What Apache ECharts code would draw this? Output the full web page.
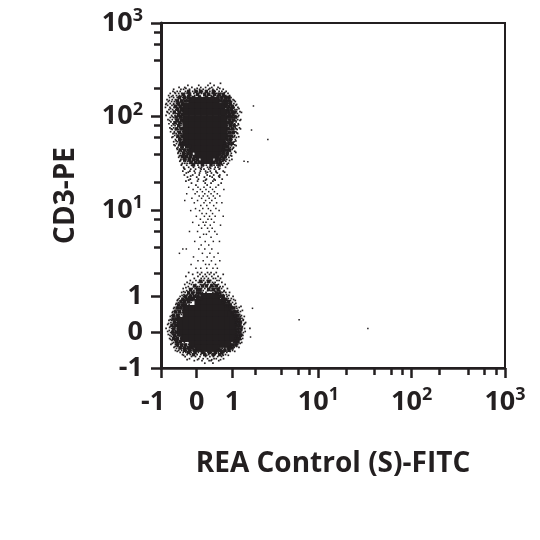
<!DOCTYPE html>
<html>
<head>
<meta charset="utf-8">
<style>html,body{margin:0;padding:0;background:#fff}#chart{width:540px;height:540px}</style>
<script src="https://cdn.jsdelivr.net/npm/echarts@6/dist/echarts.min.js"></script>
</head>
<body>
<div id="chart"></div>
<script>
// Biexponential-style flow cytometry axes: both channels run from -1 to 1000.
const axisMin = -1;
const axisMax = 1000;
const majorTicks = [-1, 0, 1, 10, 100, 1000];
const minorTicks = [2, 4, 6, 8, 20, 40, 60, 80, 200, 400, 600, 800];
const xTitle = 'REA Control (S)-FITC';
const yTitle = 'CD3-PE';

// Saturated event regions, one row per CD3-PE level: [CD3-PE, FITC, FITC, ...]
const upperCoreRows = [
  [149, -.115, .03, .18, .33, .49],
  [129, -.27, -.115, .03, .18, .33, .49, .66],
  [111, -.27, -.115, .03, .18, .33, .49, .66, .73],
  [95, -.27, -.115, .03, .18, .33, .49, .66, .73],
  [82, -.27, -.115, .03, .18, .33, .49, .66, .73],
  [71, -.27, -.115, .03, .18, .33, .49, .66, .73],
  [61, -.27, -.115, .03, .18, .33, .49, .66, .73],
  [52.5, -.27, -.115, .03, .18, .33, .49, .66],
  [45, -.115, .03, .18, .33, .49, .66],
  [39, .03, .18, .33, .49],
  [34, .18, .33]
];
const lowerCoreRows = [
  [.995, .18, .33, .49],
  [.797, .03, .18, .33, .49, .66],
  [.616, -.27, -.115, .03, .18, .33, .49, .66, .85],
  [.449, -.27, -.115, .03, .18, .33, .49, .66, .85, .95],
  [.292, -.42, -.27, -.115, .03, .18, .33, .49, .66, .85, 1.03],
  [.14, -.42, -.27, -.115, .03, .18, .33, .49, .66, .85, 1.03],
  [-.01, -.42, -.27, -.115, .03, .18, .33, .49, .66, .85, 1.03],
  [-.155, -.33, -.27, -.115, .03, .18, .33, .49, .66, .85, 1.03],
  [-.305, -.115, .03, .18, .33, .49, .66, .85],
  [-.41, .03, .18, .33, .49]
];

// Overlapping event clumps that roughen the edge of each saturated region.
const upperClumpRows = [
  [186, -.2, -.02, .1, .24, .42],
  [173, -.34, -.18, .02, .2, .3, .45, .58, .7],
  [160, -.44, -.3, -.2, -.08, .07, .24, .4, .55, .66, .78, .88],
  [147, -.5, -.38, -.29, -.22, .62, .72, .8, .9],
  [137, -.47, -.36, .7, .8, .93],
  [128, -.55, -.42, .78, .88, 1],
  [120, -.49, -.38, .85, .96],
  [112, -.58, -.44, .88, .99, 1.08],
  [105, -.46, -.36, .9, 1.02],
  [99, -.53, -.41, .86, .97, 1.1],
  [92, -.49, -.38, .91, 1.03],
  [86, -.56, -.43, .88, .98],
  [80, -.46, .93, 1.06],
  [74, -.52, -.39, .87, 1],
  [68, -.44, .9, 1.03],
  [62, -.48, -.37, .86, .97],
  [57, -.43, .82, .93],
  [52, -.41, -.33, .76, .88, .99],
  [48, -.37, -.25, -.18, .73, .84],
  [44, -.42, -.3, -.2, .69, .8, .9],
  [40.5, -.33, -.22, -.14, .6, .7, .82],
  [37.5, -.36, -.26, -.16, -.06, .55, .66, .76],
  [35, -.3, -.18, -.08, .02, .5, .6, .72],
  [32.5, -.14, -.03, .06, .12, .42, .52, .62],
  [30.5, -.08, .14, .36, .58]
];
const lowerClumpRows = [
  [1.6, .1, .3],
  [1.4, -.05, .14, .24, .38, .5],
  [1.25, -.15, .02, .08, .3, .42, .55],
  [1.12, -.2, -.1, .02, .08, .5, .6],
  [1, -.28, -.15, -.05, .03, .6, .7],
  [.93, -.18, -.08, .02, .1],
  [.9, -.35, -.24, -.12, .68, .78],
  [.82, -.4, -.3, -.2, .74, .86],
  [.72, -.46, -.36, -.28, .8, .92],
  [.63, -.5, -.4, .95, 1.05],
  [.52, -.55, -.44, 1.06, 1.15],
  [.42, -.6, -.48, 1.1, 1.2],
  [.33, -.62, -.53, 1.14, 1.25],
  [.25, -.58, 1.18, 1.3],
  [.17, -.65, -.54, 1.17, 1.28],
  [.08, -.6, 1.2, 1.32],
  [0, -.63, -.53, 1.18, 1.28],
  [-.08, -.58, 1.16, 1.3],
  [-.16, -.6, -.5, 1.15, 1.25],
  [-.24, -.52, -.42, 1.1, 1.2],
  [-.32, -.5, -.38, -.28, 1, 1.12],
  [-.4, -.42, -.3, -.2, -.12, .88, .98],
  [-.46, -.3, -.18, -.06, .62, .75, .88],
  [-.52, -.2, -.04, .14, .32, .48, .66],
  [-.58, -.08, .2, .42, .6]
];

// Individually resolved events around the upper (CD3+) population.
const upperEventRows = [
  [227, .34, .62], [216, -.22, .05, .28, .44],
  [205, -.45, -.3, -.12, .1, .22, .38, .55],
  [196, -.6, -.4, -.33, -.18, -.05, .07, .16, .3, .41, .52, .7],
  [186, -.62, -.5, -.42, -.28, -.2, -.1, .02, .14, .25, .33, .47, .58, .66, .79],
  [177, -.7, -.55, -.46, -.38, -.3, -.24, -.16, -.07, .05, .12, .2, .31, .39, .5, .56, .63, .72, .85],
  [168, -.75, -.62, -.52, -.44, -.36, -.3, -.22, -.15, -.05, .08, .18, .27, .36, .45, .53, .61, .7, .78, .9],
  [160, -.72, -.6, -.5, -.42, -.35, -.27, -.2, -.13, .54, .62, .67, .74, .82, .95],
  [152, -.8, -.64, -.55, -.47, -.4, -.33, -.25, -.18, .6, .66, .73, .8, .88, 1.02],
  [145, -.76, -.66, -.58, -.49, -.42, -.35, -.29, .68, .75, .82, .9, .97, 1.1],
  [138, -.82, -.7, -.6, -.52, -.44, -.38, .72, .79, .86, .93, 1.05],
  [132, -.78, -.65, -.56, -.47, -.41, -.36, .76, .83, .9, 1, 1.12],
  [125.6, -.85, -.71, -.59, -.5, -.43, -.37, .8, .85, .94, 1.06, 1.2],
  [119, -.74, -.63, -.54, -.46, -.39, .82, .88, .97, 1.09, 1.16],
  [113, -.8, -.68, -.57, -.48, -.4, -.36, .84, .9, 1.01, 1.14, 1.28],
  [108, -.73, -.61, -.53, -.44, -.38, .81, .87, .95, 1.04, 1.18],
  [103, -.83, -.66, -.56, -.47, -.41, .85, .92, .99, 1.11, 1.23],
  [98, -.7, -.6, -.51, -.43, -.37, .83, .89, 1.03, 1.15],
  [93, -.77, -.64, -.55, -.46, -.39, .86, .94, 1.07, 1.19, 1.31],
  [88, -.68, -.58, -.49, -.41, -.36, .82, .9, 1, 1.13],
  [84, -.74, -.62, -.52, -.44, -.38, .85, .96, 1.08, 1.21],
  [80, -.66, -.56, -.48, -.4, .84, .91, 1.02, 1.16],
  [76, -.71, -.6, -.5, -.43, -.37, .86, .97, 1.1, 1.26],
  [73, -.64, -.55, -.46, -.39, .83, .93, 1.05, 1.17],
  [69, -.69, -.58, -.49, -.42, -.36, .85, .99, 1.12],
  [66, -.62, -.53, -.44, -.38, .82, .9, 1.03, 1.19],
  [63, -.57, -.47, -.4, -.35, .86, .95, 1.08],
  [60, -.65, -.51, -.43, -.37, .81, .92, 1.01, 1.14],
  [57, -.55, -.46, -.39, -.33, .78, .88, .98, 1.1],
  [54, -.6, -.49, -.42, -.36, -.3, .76, .85, .94, 1.06],
  [51.5, -.52, -.44, -.38, -.33, .72, .82, .91, 1.02],
  [49, -.56, -.46, -.41, -.35, -.28, .74, .79, .87, .97, 1.13],
  [47, -.48, -.4, -.34, -.27, .71, .78, .84, .93, 1.04],
  [44.7, -.5, -.43, -.36, -.3, -.24, .7, .76, .81, .89, .99],
  [42.6, -.45, -.38, -.32, -.26, -.2, .68, .74, .83, .92, 1.08],
  [40.6, -.48, -.41, -.33, -.28, -.22, -.17, .66, .72, .79, .86, .96],
  [38.6, -.42, -.36, -.29, -.24, -.18, -.12, .6, .67, .75, .84, .93],
  [36.8, -.46, -.38, -.31, -.25, -.19, -.14, -.08, .56, .63, .7, .77, .88],
  [35, -.4, -.34, -.27, -.21, -.16, -.1, -.04, .02, .52, .58, .66, .73, .81, .98],
  [33.4, -.43, -.32, -.28, -.22, -.17, -.11, -.05, 0, .06, .47, .54, .61, .69, .78],
  [31.8, -.36, -.3, -.24, -.18, -.12, -.06, .01, .08, .14, .42, .5, .56, .64, .72, .86],
  [30.3, -.39, -.25, -.13, -.07, .03, .17, .24, .36, .44, .52, .68],
  [28.8, -.33, -.2, -.08, .05, .12, .27, .33, .47, .55, .77],
  [27.5, -.3, -.15, -.03, .11, .18, .3, .45, .58],
  [26.2, -.35, -.17, -.06, .09, .22, .34, .49, .7],
  [25, -.26, -.04, .07, .23, .37, .53],
  [23.8, -.31, -.1, .06, .26, .43, .6, .82],
  [22.6, -.23, 0, .19, .39, .59],
  [21.5, -.16, .04, .24, .44, .67],
  [20.5, -.27, .02, .17, .41],
  [19.5, -.13, .21, .36, .64],
  [18.6, -.02, .26, .56],
  // second pass of events between the rows above
  [200, -.27, .01, .33, .6],
  [181, -.57, -.23, .09, .44, .75],
  [164, -.66, -.4, .72, .86],
  [149, -.73, -.52, .79, 1.06],
  [135, -.6, -.84, .95, 1.15],
  [122, -.69, -.51, 1.04, 1.24],
  [111, -.78, -.59, 1.1, 1.34],
  [100, -.64, -.47, 1, 1.2],
  [91, -.72, -.53, 1.12, 1.28],
  [82, -.6, -.45, 1.04, 1.22],
  [74, -.67, -.51, 1.13, 1.3],
  [67, -.58, -.44, .96, 1.16],
  [61, -.62, -.48, 1.06, 1.23],
  [55, -.53, -.41, .9, 1.12],
  [50, -.59, -.45, .95, 1.08],
  [46, -.51, -.37, .88, 1.02],
  [41.5, -.47, -.34, .85, 1.12],
  [38, -.44, -.31, .8, .97],
  [34, -.41, -.2, .71, .9],
  [31, -.38, -.1, .15, .66, .82],
  [28, -.32, .09, .35, .6],
  [25.5, -.21, .27, .5, .74],
  [23.2, -.15, .33, .57],
  [21, -.2, .22, .47]
];

// Sparse events bridging the two populations.
const bridgeEventRows = [
  [17.6, -.2, .03, .18, .34, .49],
  [16.7, -.09, .09, .23, .4, .72],
  [15.8, .01, .14, .3, .45],
  [15, -.25, -.04, .2, .36, .53],
  [14.2, .06, .16, .27, .42, .6],
  [13.4, -.12, .12, .31, .47],
  [12.7, -.3, .02, .22, .38],
  [12, -.06, .18, .33, .51, .66],
  [11.2, .1, .25, .43],
  [10.4, -.03, .15, .29, .49],
  [9.9, -.15, .07, .35, .58],
  [9.2, .13, .24, .4],
  [8.6, -.01, .19, .32, .47, .7],
  [8, .09, .28, .37],
  [7.4, -.1, .16, .23, .44],
  [6.9, .05, .2, .34, .62],
  [6.4, .12, .27, .39],
  [5.9, -.18, .02, .31, .46],
  [5.5, .17, .24, .52],
  [5.1, .08, .36],
  [4.6, -.05, .21, .42, .59],
  [4.2, .11, .3],
  [3.8, -.35, -.26, .05, .2, .38],
  [3.4, -.44, .14, .33, .55],
  [3.1, -.08, .26, .44],
  [2.8, .03, .16, .37, .6],
  [2.55, -.14, .22, .31, .48],
  [2.3, -.02, .1, .25, .41, .53]
];

// Individually resolved events around the lower (CD3-) population.
const lowerEventRows = [
  [2.05, -.2, .02, .12, .27, .36, .5],
  [1.95, -.1, .08, .21, .32, .44, .7],
  [1.84, -.27, .03, .15, .24, .38, .55],
  [1.74, -.06, .11, .19, .29, .42, .48, .62],
  [1.64, -.16, -.02, .07, .17, .26, .35, .52, .58],
  [1.55, -.24, -.1, .04, .13, .22, .31, .4, .47, .66],
  [1.46, -.3, -.13, -.03, .09, .18, .28, .37, .45, .56, .76],
  [1.37, -.21, -.08, .01, .06, .15, .25, .34, .43, .51, .61, .69],
  [1.29, -.34, -.18, -.11, -.04, .05, .12, .2, .3, .39, .49, .57, .65, .83],
  [1.21, -.25, -.15, -.07, 0, .1, .16, .27, .36, .46, .54, .6, .73],
  [1.14, -.38, -.29, -.19, -.12, -.05, .02, .08, .14, .23, .41, .5, .59, .67, .78, .9],
  [1.06, -.32, -.23, -.16, -.09, -.02, .04, .11, .53, .62, .7, .8],
  [.995, -.42, -.33, -.26, -.2, -.13, -.06, .01, .08, .56, .64, .72, .82, 1.02],
  [.925, -.45, -.35, -.28, -.22, -.15, -.08, .59, .66, .74, .86, .96],
  [.86, -.5, -.4, -.31, -.24, -.17, -.1, -.04, .63, .7, .77, .84, .93, 1.1],
  [.797, -.47, -.37, -.3, -.23, -.14, .68, .75, .81, .9, 1],
  [.735, -.54, -.43, -.34, -.27, -.19, .72, .79, .86, .94, 1.07],
  [.675, -.49, -.41, -.36, -.29, .76, .83, .91, .99, 1.14, 1.32],
  [.616, -.6, -.52, -.44, -.38, -.32, .9, .97, 1.04, 1.16],
  [.56, -.56, -.48, -.42, -.36, .92, .98, 1.06, 1.2, 1.38],
  [.5, -.64, -.54, -.47, -.4, -.35, .95, 1.01, 1.09, 1.22],
  [.449, -.59, -.51, -.45, -.39, .98, 1.05, 1.13, 1.27],
  [.396, -.7, -.57, -.5, -.44, 1.02, 1.08, 1.17, 1.3, 1.46],
  [.343, -.62, -.55, -.48, 1.03, 1.1, 1.16, 1.24, 1.36],
  [.292, -.74, -.66, -.58, -.51, 1.12, 1.18, 1.26, 1.41],
  [.24, -.68, -.6, -.53, -.47, 1.09, 1.15, 1.22, 1.33, 1.52],
  [.19, -.78, -.63, -.56, -.5, 1.11, 1.19, 1.28, 1.44],
  [.14, -.7, -.61, -.54, -.48, 1.13, 1.2, 1.3, 1.38],
  [.091, -.83, -.66, -.57, -.5, 1.1, 1.17, 1.25, 1.47, 1.72],
  [.042, -.73, -.63, -.55, -.47, 1.14, 1.21, 1.34],
  [-.01, -.69, -.59, -.52, -.46, 1.12, 1.19, 1.28, 1.42],
  [-.057, -.76, -.64, -.56, -.49, 1.09, 1.16, 1.24, 1.36],
  [-.106, -.67, -.58, -.51, -.45, 1.13, 1.2, 1.31],
  [-.156, -.72, -.61, -.54, -.47, -.41, 1.1, 1.18, 1.26, 1.39],
  [-.206, -.65, -.57, -.5, -.44, -.38, 1.06, 1.14, 1.23],
  [-.256, -.6, -.53, -.46, -.39, -.31, 1.03, 1.11, 1.21, 1.35],
  [-.307, -.68, -.55, -.48, -.42, -.35, -.27, -.2, .95, 1.02, 1.1, 1.19],
  [-.36, -.56, -.49, -.41, -.36, -.29, -.22, -.15, .88, .96, 1.04, 1.15],
  [-.41, -.52, -.44, -.37, -.31, -.25, -.17, -.09, -.03, .6, .67, .75, .83, .9, 1.01],
  [-.466, -.55, -.46, -.38, -.32, -.26, -.19, -.12, -.05, .02, .09, .53, .61, .69, .78, .87, 1],
  [-.52, -.42, -.34, -.27, -.21, -.14, -.06, .04, .12, .2, .28, .37, .45, .56, .63, .72, .81],
  [-.58, -.36, -.24, -.16, -.07, .01, .1, .18, .3, .39, .47, .58, .68, .77],
  [-.636, -.29, -.13, -.03, .08, .22, .33, .42, .54, .65],
  [-.7, -.18, .05, .16, .27, .44, .5, .71],
  [-.76, -.06, .13, .31, .36, .57],
  [-.84, .2, .41],
  // second pass of events between the rows above
  [1.5, -.18, .2, .43],
  [1.33, -.27, 0, .33, .58],
  [1.17, -.33, -.22, .47, .72],
  [1.03, -.37, -.25, .66, .88],
  [.89, -.48, -.3, .8, 1.04],
  [.77, -.52, -.33, .88, 1.12],
  [.645, -.58, -.42, 1.01, 1.25],
  [.53, -.62, -.46, 1.03, 1.3],
  [.42, -.66, -.52, 1.11, 1.34],
  [.315, -.7, -.56, 1.16, 1.42],
  [.215, -.75, -.6, 1.24, 1.48],
  [.115, -.72, -.57, 1.22, 1.36],
  [.017, -.78, -.61, 1.26, 1.5],
  [-.08, -.71, -.55, 1.21, 1.4],
  [-.18, -.69, -.56, 1.2, 1.33],
  [-.28, -.64, -.49, 1.14, 1.29],
  [-.385, -.59, -.43, 1.06, 1.24],
  [-.49, -.5, -.28, .92, 1.08],
  [-.6, -.33, -.1, .25, .7, .86],
  [-.73, -.24, .02, .38, .62]
];

// Stray events far from either population: [FITC, CD3-PE].
const strayEvents = [[2.8, 57], [1.62, 33], [1.45, 33.4], [1.9, 130], [1.8, 72], [6.2, .31], [34, .09], [1.85, .62], [1.75, -.12]];

const ink = '#231f20';

// Both channels are displayed on an inverse hyperbolic sine scale.
const toDisplay = (v) => Math.asinh(v);
const expandRows = (rows) => rows.flatMap(([y, ...xs]) => xs.map((x) => [toDisplay(x), toDisplay(y)]));
const majorDisplay = majorTicks.map(toDisplay);
const minorDisplay = minorTicks.map(toDisplay);

// Decades get a superscript exponent, the linear part plain digits.
function tickLabel(display, isX) {
  const value = majorTicks[majorDisplay.findIndex((d) => Math.abs(d - display) < 1e-6)];
  if (value === -1) return isX ? '{n|-1}{gap|}' : '{n|-1}';
  if (value >= 10) return '{n|10}{e|' + Math.round(Math.log10(value)) + '}';
  return '{n|' + value + '}';
}
const labelRich = {
  n: { fontFamily: 'Open Sans', fontWeight: 700, fontSize: 27, color: ink, lineHeight: 32 },
  e: { fontFamily: 'Open Sans', fontWeight: 700, fontSize: 18, color: ink, lineHeight: 18, verticalAlign: 'top' },
  gap: { width: 16, fontSize: 1, lineHeight: 1 }
};
const titleStyle = { fontFamily: 'Open Sans', fontWeight: 700, fontSize: 28, color: ink };

function mainAxis(isX, title) {
  return {
    type: 'value',
    min: toDisplay(axisMin),
    max: toDisplay(axisMax),
    name: title,
    nameLocation: 'middle',
    nameGap: isX ? 82 : 81,
    nameTextStyle: titleStyle,
    splitLine: { show: false },
    axisLine: { show: true, onZero: false, lineStyle: { color: ink, width: isX ? 2.5 : 3 } },
    axisTick: { show: true, length: 10, customValues: majorDisplay, lineStyle: { color: ink, width: 2.5 } },
    axisLabel: {
      show: true,
      margin: 18,
      customValues: majorDisplay,
      formatter: (v) => tickLabel(v, isX),
      rich: labelRich
    }
  };
}
function minorAxis() {
  return {
    type: 'value',
    min: toDisplay(axisMin),
    max: toDisplay(axisMax),
    splitLine: { show: false },
    axisLine: { show: false, onZero: false },
    axisLabel: { show: false },
    axisTick: { show: true, length: 7, customValues: minorDisplay, lineStyle: { color: ink, width: 2.5 } }
  };
}

function eventSeries(data, size) {
  return { type: 'scatter', data, symbol: 'rect', symbolSize: size, itemStyle: { color: ink, opacity: 1 }, silent: true, animation: false };
}

const chart = echarts.init(document.getElementById('chart'), null, { renderer: 'canvas' });
chart.setOption({
  animation: false,
  backgroundColor: '#fff',
  grid: { left: 161, right: 35, top: 23, bottom: 172, show: true, borderColor: ink, borderWidth: 2, backgroundColor: '#fff' },
  xAxis: [
    Object.assign(mainAxis(true, xTitle), { position: 'bottom' }),
    Object.assign(minorAxis(), { position: 'bottom' })
  ],
  yAxis: [
    Object.assign(mainAxis(false, yTitle), { position: 'left' }),
    Object.assign(minorAxis(), { position: 'left' })
  ],
  series: [
    eventSeries(expandRows(upperCoreRows).concat(expandRows(lowerCoreRows)), 7),
    eventSeries(expandRows(upperClumpRows).concat(expandRows(lowerClumpRows)), 3.5),
    eventSeries(expandRows(upperEventRows).concat(expandRows(lowerEventRows)), 1.7),
    eventSeries(expandRows(bridgeEventRows).concat(strayEvents.map(([x, y]) => [toDisplay(x), toDisplay(y)])), 1.5)
  ]
});
</script>
</body>
</html>
